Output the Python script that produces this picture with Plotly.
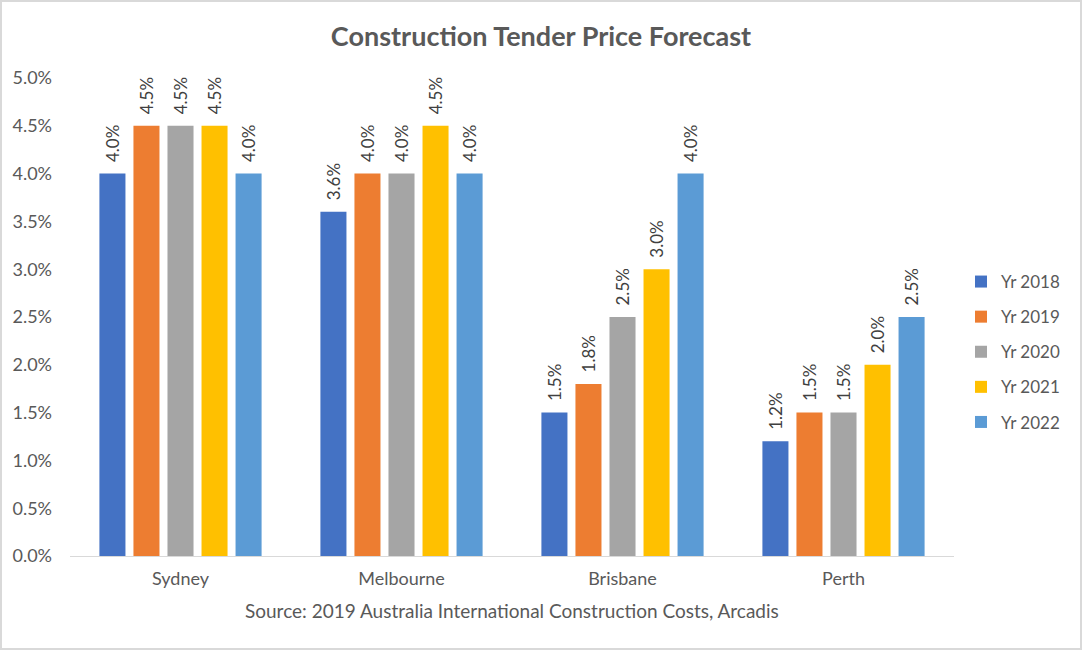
import plotly.graph_objects as go

cities = ["Sydney", "Melbourne", "Brisbane", "Perth"]
years = ["Yr 2018", "Yr 2019", "Yr 2020", "Yr 2021", "Yr 2022"]
yr2018 = [4.0, 3.6, 1.5, 1.2]
yr2019 = [4.5, 4.0, 1.8, 1.5]
yr2020 = [4.5, 4.0, 2.5, 1.5]
yr2021 = [4.5, 4.5, 3.0, 2.0]
yr2022 = [4.0, 4.0, 4.0, 2.5]
series = [yr2018, yr2019, yr2020, yr2021, yr2022]
colors = ["#4472C4", "#ED7D31", "#A5A5A5", "#FFC000", "#5B9BD5"]
ytickvals = [0, 0.5, 1.0, 1.5, 2.0, 2.5, 3.0, 3.5, 4.0, 4.5, 5.0]
yticktext = [f"{v:.1f}%" for v in ytickvals]

FONT = "Lato"
W, H = 1082, 650
L, R, T, B = 70, 128, 78, 94
pw, ph = W - L - R, H - T - B

fig = go.Figure()
for name, vals, col in zip(years, series, colors):
    fig.add_trace(go.Bar(
        x=cities, y=vals, name=name, marker_color=col, marker_line_width=0,
        text=[f"\u2002{v:.1f}%" for v in vals], textposition="outside", textangle=-90,
        constraintext="none", cliponaxis=False,
        textfont=dict(family=FONT, size=17, color="#404040"),
        legendgroup=name,
    ))

fig.update_layout(
    width=W, height=H,
    margin=dict(l=L, r=R, t=T, b=B),
    paper_bgcolor="white", plot_bgcolor="white",
    barmode="group", bargap=0.23, bargroupgap=0.235,
    title=dict(text="<b>Construction Tender Price Forecast</b>", x=0.5, xref="container",
               y=1 - 37 / H, yref="container", yanchor="middle", xanchor="center",
               font=dict(family=FONT, size=27, color="#595959")),
    font=dict(family=FONT, size=17, color="#595959"),
    legend=dict(x=(961 - L) / pw, xanchor="left", y=(556 - 352) / ph, yanchor="middle",
                font=dict(family=FONT, size=17, color="#595959"),
                tracegroupgap=10, itemwidth=30, bgcolor="rgba(0,0,0,0)"),
    xaxis=dict(showline=True, linecolor="#D9D9D9", linewidth=1, ticks="", showgrid=False,
               tickfont=dict(family=FONT, size=18, color="#595959"), ticklabelstandoff=6),
    yaxis=dict(range=[0, 5], tickmode="array", tickvals=ytickvals, ticktext=yticktext,
               showgrid=False, zeroline=False, showline=False, ticks="",
               tickfont=dict(family=FONT, size=18, color="#595959"), ticklabelstandoff=17),
    showlegend=True,
)

fig.add_annotation(text="Source: 2019 Australia International Construction Costs, Arcadis",
                   xref="paper", yref="paper", x=0.5, y=-(610 - 556) / ph, yanchor="middle",
                   showarrow=False, font=dict(family=FONT, size=19, color="#595959"))

fig.add_shape(type="rect", xref="paper", yref="paper",
              x0=(1 - L) / pw, x1=(W - 1 - L) / pw,
              y0=(556 - (H - 1)) / ph, y1=(556 - 1) / ph,
              line=dict(color="#D9D9D9", width=2), fillcolor="rgba(0,0,0,0)", layer="below")

fig.write_html("out.html")
